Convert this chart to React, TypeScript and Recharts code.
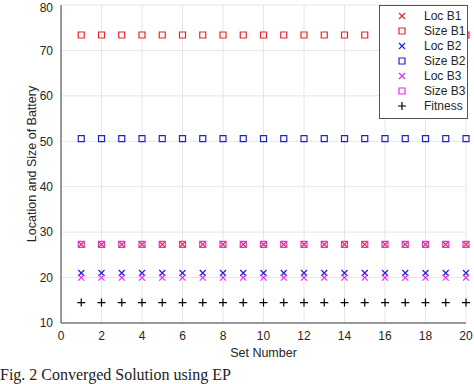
import { ScatterChart, Scatter, XAxis, YAxis, CartesianGrid } from "recharts";

// set numbers 1..20
const SETS = [1, 2, 3, 4, 5, 6, 7, 8, 9, 10, 11, 12, 13, 14, 15, 16, 17, 18, 19, 20];

// values (constant across sets)
const LOC_B1 = [27.3, 27.3, 27.3, 27.3, 27.3, 27.3, 27.3, 27.3, 27.3, 27.3, 27.3, 27.3, 27.3, 27.3, 27.3, 27.3, 27.3, 27.3, 27.3, 27.3];
const SIZE_B1 = [73.4, 73.4, 73.4, 73.4, 73.4, 73.4, 73.4, 73.4, 73.4, 73.4, 73.4, 73.4, 73.4, 73.4, 73.4, 73.4, 73.4, 73.4, 73.4, 73.4];
const LOC_B2 = [21, 21, 21, 21, 21, 21, 21, 21, 21, 21, 21, 21, 21, 21, 21, 21, 21, 21, 21, 21];
const SIZE_B2 = [50.6, 50.6, 50.6, 50.6, 50.6, 50.6, 50.6, 50.6, 50.6, 50.6, 50.6, 50.6, 50.6, 50.6, 50.6, 50.6, 50.6, 50.6, 50.6, 50.6];
const LOC_B3 = [20, 20, 20, 20, 20, 20, 20, 20, 20, 20, 20, 20, 20, 20, 20, 20, 20, 20, 20, 20];
const SIZE_B3 = [27.3, 27.3, 27.3, 27.3, 27.3, 27.3, 27.3, 27.3, 27.3, 27.3, 27.3, 27.3, 27.3, 27.3, 27.3, 27.3, 27.3, 27.3, 27.3, 27.3];
const FITNESS = [14.5, 14.5, 14.5, 14.5, 14.5, 14.5, 14.5, 14.5, 14.5, 14.5, 14.5, 14.5, 14.5, 14.5, 14.5, 14.5, 14.5, 14.5, 14.5, 14.5];

const X_TICKS = [0, 2, 4, 6, 8, 10, 12, 14, 16, 18, 20];
const Y_TICKS = [10, 20, 30, 40, 50, 60, 70, 80];

type Marker = "x" | "square" | "plus";

const SERIES: { name: string; values: number[]; colour: string; marker: Marker }[] = [
  { name: "Loc B1", values: LOC_B1, colour: "#e8242f", marker: "x" },
  { name: "Size B1", values: SIZE_B1, colour: "#e8242f", marker: "square" },
  { name: "Loc B2", values: LOC_B2, colour: "#2020d8", marker: "x" },
  { name: "Size B2", values: SIZE_B2, colour: "#2020d8", marker: "square" },
  { name: "Loc B3", values: LOC_B3, colour: "#e030e0", marker: "x" },
  { name: "Size B3", values: SIZE_B3, colour: "#e030e0", marker: "square" },
  { name: "Fitness", values: FITNESS, colour: "#000000", marker: "plus" },
];

const FONT = "'Liberation Sans', Arial, sans-serif";
const TEXT = "#262626";

function markerPath(marker: Marker, cx: number, cy: number) {
  if (marker === "x") return `M${cx - 3},${cy - 3}L${cx + 3},${cy + 3}M${cx - 3},${cy + 3}L${cx + 3},${cy - 3}`;
  if (marker === "plus") return `M${cx - 4},${cy}L${cx + 4},${cy}M${cx},${cy - 4}L${cx},${cy + 4}`;
  return `M${cx - 3},${cy - 3}h6v6h-6z`;
}

function makeShape(marker: Marker, colour: string) {
  return (props: any) => (
    <path d={markerPath(marker, props.cx, props.cy)} fill="none" stroke={colour} strokeWidth={1.2} />
  );
}

function LegendBox() {
  return (
    <div style={{ position: "absolute", left: 379, top: 5, width: 87, height: 110, border: "1px solid #555", background: "#fff", padding: "2px 0 0", fontFamily: FONT, fontSize: 12, color: TEXT }}>
      {SERIES.map(s => (
        <div key={s.name} style={{ display: "flex", alignItems: "center", height: 15 }}>
          <svg width={44} height={12} style={{ flex: "none" }}>
            <path d={markerPath(s.marker, 22, 6)} fill="none" stroke={s.colour} strokeWidth={1.2} />
          </svg>
          <span>{s.name}</span>
        </div>
      ))}
    </div>
  );
}

export default function App() {
  return (
    <div style={{ position: "absolute", left: 0, top: 0, width: 474, height: 384, overflow: "hidden", background: "#fff" }}>
      <ScatterChart width={474} height={384} margin={{ top: 5, right: 8, left: 0, bottom: 21 }}>
        <CartesianGrid stroke="#e6e6e6" strokeWidth={1} />
        <XAxis
          type="number"
          dataKey="x"
          domain={[0, 20]}
          ticks={X_TICKS}
          tickLine={false}
          axisLine={{ stroke: "#404040" }}
          tick={{ fontFamily: FONT, fontSize: 12, fill: TEXT }}
          height={40}
          label={{ value: "Set Number", position: "insideBottom", offset: 6, style: { fontFamily: FONT, fontSize: 12.5, fill: TEXT } }}
        />
        <YAxis
          type="number"
          dataKey="y"
          domain={[10, 80]}
          ticks={Y_TICKS}
          tickLine={false}
          axisLine={{ stroke: "#404040" }}
          tick={{ fontFamily: FONT, fontSize: 12, fill: TEXT }}
          width={61}
          label={{ value: "Location and Size of Battery", angle: -90, position: "insideLeft", offset: 32, style: { textAnchor: "middle", fontFamily: FONT, fontSize: 12.5, fill: TEXT } }}
        />
        {SERIES.map(s => (
          <Scatter
            key={s.name}
            name={s.name}
            data={SETS.map((x, i) => ({ x, y: s.values[i] }))}
            shape={makeShape(s.marker, s.colour)}
            isAnimationActive={false}
          />
        ))}
      </ScatterChart>
      <LegendBox />
      <div style={{ position: "absolute", left: 0, top: 366, fontFamily: "'Liberation Serif', 'DejaVu Serif', serif", fontSize: 16, lineHeight: "17px", color: "#222", whiteSpace: "nowrap" }}>
        Fig. 2 Converged Solution using EP
      </div>
    </div>
  );
}
